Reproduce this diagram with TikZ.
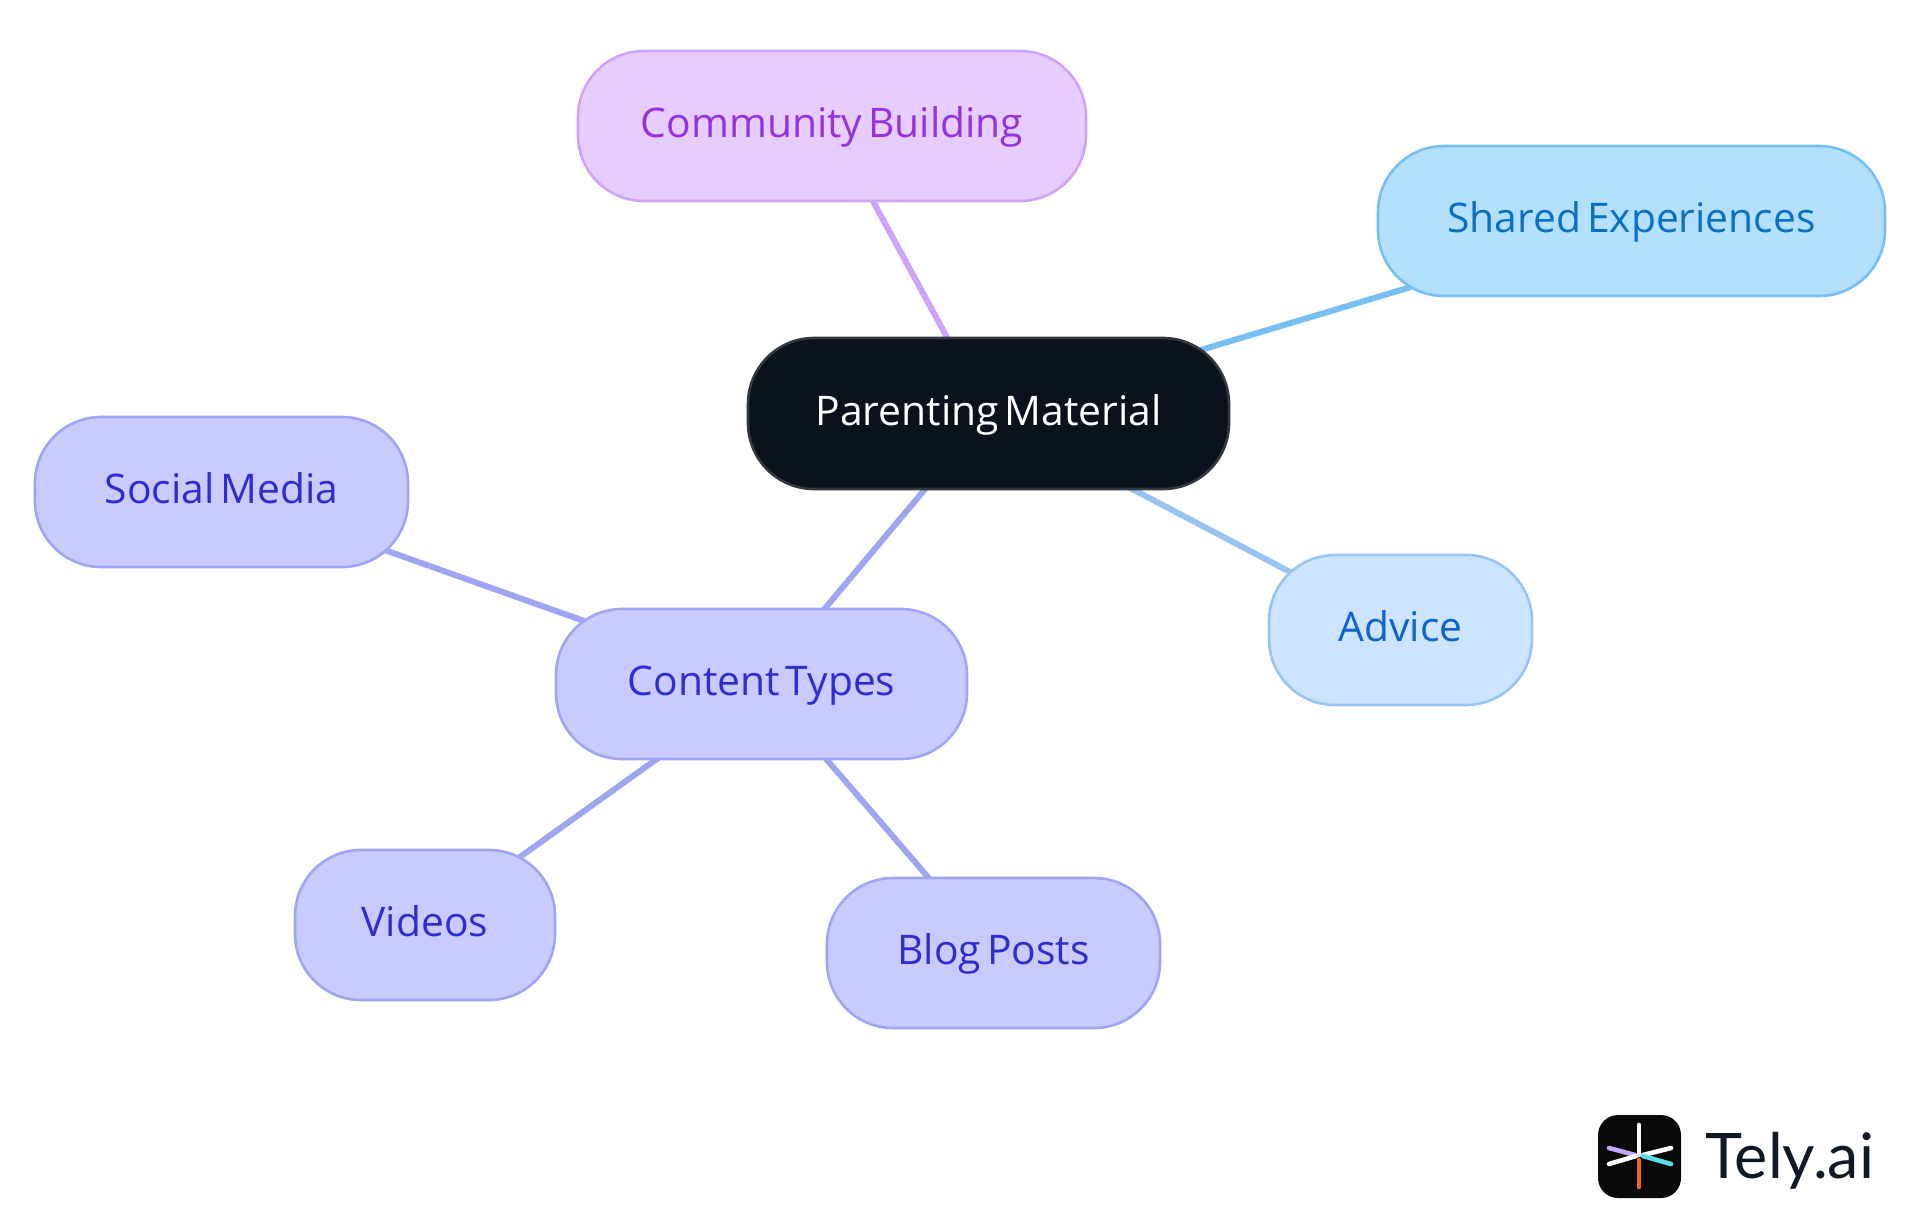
\documentclass[tikz,border=0pt]{standalone}
\usepackage{fontspec}
\setmainfont{Open Sans}[WordSpace=0.55]
\newfontfamily\logofont{Lato}
\usetikzlibrary{backgrounds}
\definecolor{darkF}{HTML}{0B121B}\definecolor{darkB}{HTML}{33383F}
\definecolor{purF}{HTML}{E6CCFF}\definecolor{purB}{HTML}{CFA3F5}\definecolor{purT}{HTML}{9333DB}
\definecolor{skyF}{HTML}{B3E0FF}\definecolor{skyB}{HTML}{7ABFF2}\definecolor{skyT}{HTML}{0B6FC4}
\definecolor{bluF}{HTML}{CCE4FF}\definecolor{bluB}{HTML}{99C4F2}\definecolor{bluT}{HTML}{0F63C9}
\definecolor{indF}{HTML}{C9CBFF}\definecolor{indB}{HTML}{A0A5F2}\definecolor{indT}{HTML}{2E2ECF}
\definecolor{logoK}{HTML}{0A0A0A}\definecolor{logoT}{HTML}{111A24}
\definecolor{logoP}{HTML}{C4A8F5}\definecolor{logoC}{HTML}{5CDDEE}\definecolor{logoO}{HTML}{F26A0F}
\tikzset{
 x=0.5pt,y=-0.5pt,
 mind/.style={rounded corners=33pt,line width=1.3pt,inner sep=0pt,outer sep=0pt,
   font=\fontsize{20.4}{24}\selectfont,text height=15.5pt,text depth=4pt,align=center},
 root/.style={mind,fill=darkF,draw=darkB,text=white},
 pur/.style={mind,fill=purF,draw=purB,text=purT},
 sky/.style={mind,fill=skyF,draw=skyB,text=skyT},
 blu/.style={mind,fill=bluF,draw=bluB,text=bluT},
 ind/.style={mind,fill=indF,draw=indB,text=indT},
 link/.style={line width=3pt},
 spoke/.style={line width=2.3pt,line cap=round},
}
\newcommand{\mnode}[7]{\node[#1,minimum width=#5*0.5pt-#4*0.5pt,minimum height=#7*0.5pt-#6*0.5pt] (#2) at ({(#4+#5)/2},{(#6+#7)/2}) {#3};}
\begin{document}
\begin{tikzpicture}
\useasboundingbox (0,0) rectangle (1920,1215);
\mnode{root}{parent}{Parenting Material}{748}{1229}{338}{489}
\mnode{pur}{community}{Community Building}{578}{1086}{51}{201}
\mnode{sky}{shared}{Shared Experiences}{1378}{1885}{146}{296}
\mnode{blu}{advice}{Advice}{1269}{1532}{555}{705}
\mnode{ind}{content}{Content Types}{556}{967}{609}{759}
\mnode{ind}{social}{Social Media}{35}{408}{417}{567}
\mnode{ind}{videos}{Videos}{295}{555}{850}{1000}
\mnode{ind}{blog}{Blog Posts}{827}{1160}{878}{1028}
\begin{scope}[on background layer]
\draw[link,purB] (parent.center) -- (community.center);
\draw[link,skyB] (parent.center) -- (shared.center);
\draw[link,bluB] (parent.center) -- (advice.center);
\draw[link,indB] (parent.center) -- (content.center);
\draw[link,indB] (content.center) -- (social.center);
\draw[link,indB] (content.center) -- (videos.center);
\draw[link,indB] (content.center) -- (blog.center);
\end{scope}
% logo
\fill[logoK,rounded corners=10pt] (1598,1115) rectangle (1681,1198);
\draw[spoke,white] (1639,1155) -- (1639,1125);
\draw[spoke,logoO] (1639,1160) -- (1639,1187);
\draw[spoke,logoP] (1635,1155) -- (1609,1148);
\draw[spoke,white] (1643,1155) -- (1671,1148);
\draw[spoke,white] (1636,1156) -- (1609,1164);
\draw[spoke,logoC] (1643,1156) -- (1671,1164);
\node[anchor=base west,inner sep=0pt,text=logoT,font=\logofont\fontsize{31.4}{31}\selectfont] (logotext) at (1705,1178) {Tely.ai};
\end{tikzpicture}
\end{document}
